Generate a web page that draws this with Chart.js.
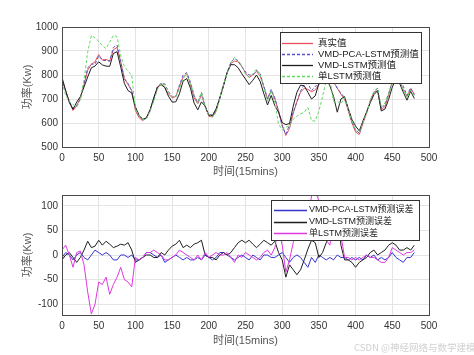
<!DOCTYPE html>
<html><head><meta charset="utf-8">
<script src="https://cdn.jsdelivr.net/npm/chart.js@4"></script>
<style>
html,body{margin:0;padding:0;background:#fff;width:474px;height:355px;overflow:hidden;}
#c1{position:absolute;left:0;top:0;}
#c2{position:absolute;left:0;top:180px;}
#wm{position:absolute;left:354px;top:340px;font:9.5px "Noto Sans CJK SC","Liberation Sans",sans-serif;color:#d0d0d0;white-space:nowrap;}
</style></head><body>
<canvas id="c1" width="474" height="180"></canvas>
<canvas id="c2" width="474" height="175"></canvas>
<div id="wm">CSDN @神经网络与数学建模</div>
<script>
// time index (15-min steps)
const steps = [0,5,10,15,20,25,30,35,40,45,50,55,60,65,70,75,80,85,90,95,
 100,105,110,115,120,125,130,135,140,145,150,155,160,165,170,175,180,185,190,195,
 200,205,210,215,220,225,230,235,240,245,250,255,260,265,270,275,280,285,290,295,
 300,305,310,315,320,325,330,335,340,345,350,355,360,365,370,375,380,385,390,395,
 400,405,410,415,420,425,430,435,440,445,450,455,460,465,470,475,480];

const xTicks = [0,50,100,150,200,250,300,350,400,450,500];
const yTicksTop = [500,600,700,800,900,1000];
const yTicksBottom = [-100,-50,0,50,100];

// 真实值
const trueVals = [780,735,690,652,672,705,760,820,845,855,
 885,862,865,858,905,915,855,785,760,735,
 652,622,610,622,655,700,745,765,748,722,
 705,710,752,790,805,760,705,680,718,670,
 628,625,650,705,760,810,848,858,855,835,
 808,790,800,815,795,752,700,735,700,650,
 592,548,578,640,688,728,745,740,730,738,
 760,790,810,800,770,745,720,700,650,600,
 562,552,598,642,690,728,735,655,668,718,
 775,800,775,738,710,742,722];

// VMD-PCA-LSTM预测值
const pcaVals = [785,730,690,662,672,700,765,830,845,845,
 880,862,860,858,915,925,855,785,765,735,
 662,632,615,617,650,700,750,765,763,732,
 710,710,757,800,810,770,715,685,728,670,
 633,635,655,700,755,810,853,868,860,835,
 813,800,800,820,805,752,700,740,705,650,
 587,553,593,645,688,733,760,765,735,753,
 760,795,820,805,780,745,725,705,660,605,
 572,557,608,642,695,728,745,660,678,723,
 770,805,785,753,715,747,717];

// VMD-LSTM预测值
const vmdVals = [790,735,685,657,687,710,750,792,830,837,
 855,842,837,836,890,897,833,765,735,725,
 667,632,615,622,655,705,750,760,748,712,
 687,688,722,775,785,745,683,655,688,670,
 633,630,660,705,755,810,843,843,830,805,
 783,760,778,800,773,722,675,715,672,645,
 602,593,598,670,728,758,755,728,700,713,
 765,785,785,755,710,645,700,710,660,615,
 587,567,608,647,685,718,735,650,658,698,
 750,780,765,728,695,732,702];

// 单LSTM预测值
const lstmVals = [770,715,690,677,667,697,780,895,965,955,
 940,922,910,938,965,960,880,835,815,800,
 657,632,615,617,650,690,740,765,758,732,
 710,710,742,785,805,765,715,680,728,665,
 633,625,645,705,760,805,853,873,855,840,
 803,790,805,825,800,747,690,735,685,595,
 572,583,588,615,628,638,645,665,610,608,
 650,710,780,780,690,690,680,705,655,610,
 567,562,603,642,695,733,745,670,683,723,
 760,790,770,738,705,737,712];

// 预测误差
const pcaErr = [-5,5,0,-10,0,5,-5,-10,0,10,
 5,0,5,0,-10,-10,0,0,-5,0,
 -10,-10,-5,5,5,0,-5,0,-15,-10,
 -5,0,-5,-10,-5,-10,-10,-5,-10,0,
 -5,-10,-5,5,5,0,-5,-10,-5,0,
 -5,-10,0,-5,-10,0,0,-5,-5,0,
 5,-5,-15,-5,0,-5,-15,-25,-5,-15,
 0,-5,-10,-5,-10,0,-5,-5,-10,-5,
 -10,-5,-10,0,-5,0,-10,-5,-10,-5,
 5,-5,-10,-15,-5,-5,5];

const vmdErr = [-10,0,5,-5,-15,-5,10,28,15,18,
 30,20,28,22,15,18,22,20,25,10,
 -15,-10,-5,0,0,-5,-5,5,0,10,
 18,22,30,15,20,15,22,25,30,0,
 -5,-5,-10,0,5,0,5,15,25,30,
 25,30,22,15,22,30,25,20,28,5,
 -10,-45,-20,-30,-40,-30,-10,12,30,25,
 -5,5,25,45,60,100,20,-10,-10,-15,
 -25,-15,-10,-5,5,10,0,5,10,20,
 25,20,10,10,15,10,20];

const lstmErr = [10,20,0,-25,5,8,-20,-75,-120,-100,
 -55,-60,-45,-80,-60,-45,-25,-50,-55,-65,
 -5,-10,-5,5,5,10,5,0,-10,-10,
 -5,0,10,5,0,-5,-10,0,-10,5,
 -5,0,5,0,0,5,-5,-15,0,-5,
 5,0,-5,-10,-5,5,10,0,15,55,
 20,-35,-10,25,60,90,100,75,120,130,
 110,80,30,20,80,55,40,-5,-5,-10,
 -5,-10,-5,0,-5,-5,-10,-15,-15,-5,
 15,10,5,0,5,5,10];

const FONT = '"Liberation Sans", Arial, "Noto Sans CJK SC", sans-serif';
const pts = vals => steps.map((x, i) => ({x: x, y: vals[i]}));

function ds(label, vals, color, dash, order) {
  return {label: label, data: pts(vals), borderColor: color, backgroundColor: color,
          borderDash: dash, borderWidth: 1, pointRadius: 0, fill: false, order: order, tension: 0};
}

function framePlugin(id) {
  return {id: id, afterDatasetsDraw(chart) {
    const a = chart.chartArea, ctx = chart.ctx;
    ctx.save(); ctx.strokeStyle = '#4a4a4a'; ctx.lineWidth = 1; ctx.setLineDash([]);
    ctx.strokeRect(Math.round(a.left) + 0.5, Math.round(a.top) + 0.5,
                   Math.round(a.right - a.left), Math.round(a.bottom - a.top));
    ctx.restore();
  }};
}

function legendPlugin(id, box, rows, lineX0, lineX1, textX, fontSize) {
  return {id: id, afterDraw(chart) {
    const ctx = chart.ctx;
    ctx.save();
    ctx.fillStyle = '#fff';
    ctx.fillRect(box.x, box.y, box.w, box.h);
    ctx.strokeStyle = '#333'; ctx.lineWidth = 1; ctx.setLineDash([]);
    ctx.strokeRect(box.x + 0.5, box.y + 0.5, box.w, box.h);
    const dsets = chart.data.datasets;
    dsets.forEach((d, k) => {
      const y = Math.round(rows[k]) + 0.5;
      ctx.strokeStyle = d.borderColor; ctx.lineWidth = 1.3;
      ctx.setLineDash(d.borderDash || []);
      ctx.beginPath(); ctx.moveTo(lineX0, y); ctx.lineTo(lineX1, y); ctx.stroke();
      ctx.setLineDash([]);
      ctx.fillStyle = '#222';
      ctx.font = fontSize + 'px ' + FONT;
      ctx.textBaseline = 'middle'; ctx.textAlign = 'left';
      ctx.fillText(d.label, textX, rows[k] + 0.5);
    });
    ctx.restore();
  }};
}

function baseOptions(yMin, yMax, yTicks, padTop, xAxisH, xTitlePadBottom) {
  return {
    responsive: false, animation: false,
    layout: {padding: {left: 0, right: 45, top: padTop, bottom: 0}},
    plugins: {legend: {display: false}, tooltip: {enabled: false}},
    scales: {
      x: {type: 'linear', min: 0, max: 500,
          afterFit: s => { s.height = xAxisH; },
          afterBuildTicks: s => { s.ticks = xTicks.map(v => ({value: v})); },
          ticks: {padding: 5, color: '#333', font: {family: FONT, size: 10}, maxRotation: 0, autoSkip: false,
                  callback: v => String(v)},
          grid: {color: '#e4e4e4', drawTicks: false},
          border: {display: false},
          title: {display: true, text: '时间(15mins)', color: '#555',
                  font: {family: FONT, size: 11}, padding: {top: 0, bottom: xTitlePadBottom}}},
      y: {type: 'linear', min: yMin, max: yMax,
          afterFit: s => { s.width = 62; },
          afterBuildTicks: s => { s.ticks = yTicks.map(v => ({value: v})); },
          ticks: {padding: 4, color: '#333', font: {family: FONT, size: 10},
                  callback: v => String(v)},
          grid: {color: '#e4e4e4', drawTicks: false},
          border: {display: false},
          title: {display: true, text: '功率(Kw)', color: '#555',
                  font: {family: FONT, size: 11}, padding: {top: 21, bottom: 0}}}
    }
  };
}

new Chart(document.getElementById('c1'), {
  type: 'line',
  data: {datasets: [
    ds('真实值', trueVals, '#e5505c', [], 3),
    ds('VMD-PCA-LSTM预测值', pcaVals, '#5a52c8', [3, 2], 2),
    ds('VMD-LSTM预测值', vmdVals, '#1e1e1e', [], 1),
    ds('单LSTM预测值', lstmVals, '#62d862', [3, 2], 0)
  ]},
  options: baseOptions(500, 1000, yTicksTop, 27, 33, 1.4),
  plugins: [framePlugin('f1'),
            legendPlugin('l1', {x: 280, y: 32, w: 141, h: 51}, [43, 54, 65, 76], 282, 313, 318, 9.5)]
});

new Chart(document.getElementById('c2'), {
  type: 'line',
  data: {datasets: [
    ds('VMD-PCA-LSTM预测误差', pcaErr, '#3535d0', [], 2),
    ds('VMD-LSTM预测误差', vmdErr, '#1e1e1e', [], 1),
    ds('单LSTM预测误差', lstmErr, '#e038e0', [], 0)
  ]},
  options: baseOptions(-122, 122, yTicksBottom, 15, 40, 7.7),
  plugins: [framePlugin('f2'),
            legendPlugin('l2', {x: 271, y: 20, w: 148, h: 40}, [29.5, 41.5, 53], 274, 307, 309, 9)]
});
</script>
</body></html>
